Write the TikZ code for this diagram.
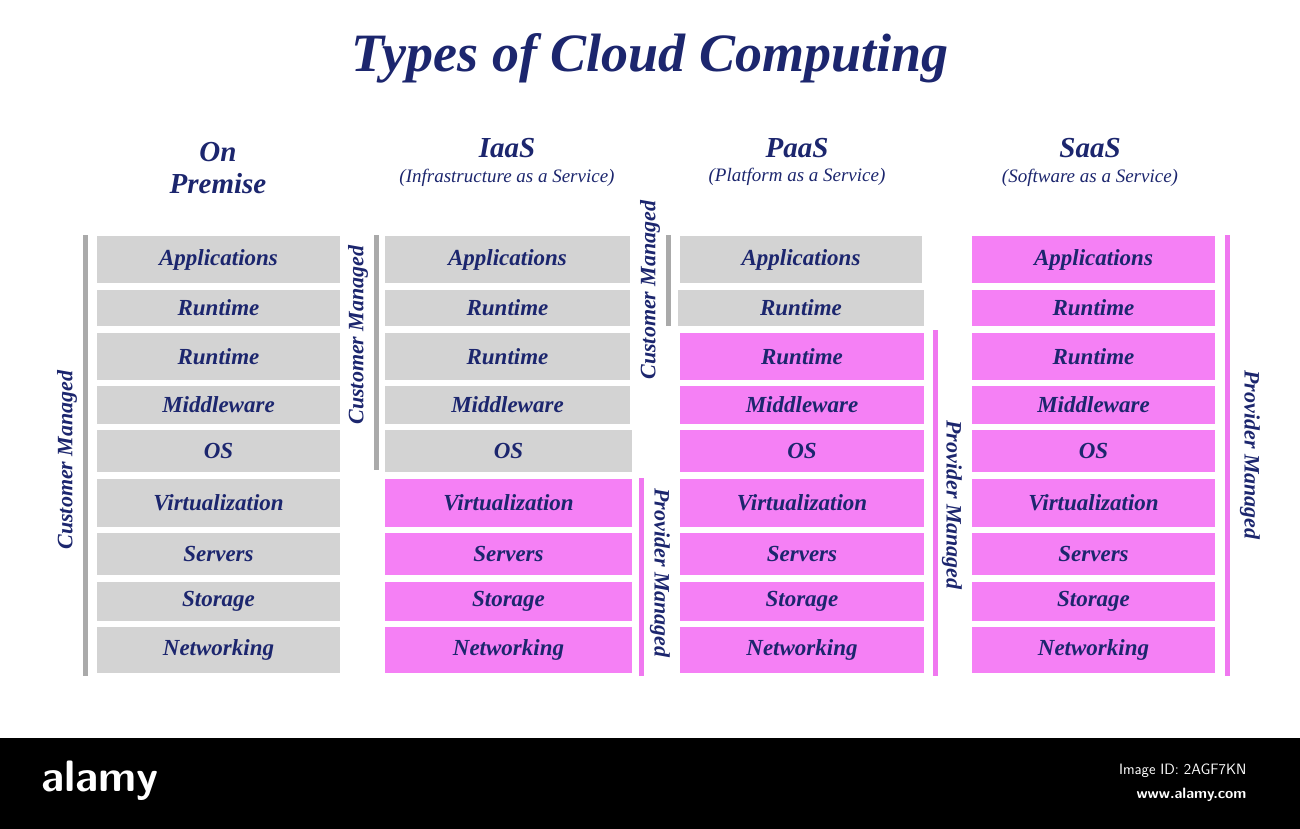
\documentclass[tikz,border=0pt]{standalone}
\usepackage{fontspec}
\setmainfont{Liberation Serif}
\begin{document}
\begin{tikzpicture}[x=1pt,y=-1pt]
\definecolor{navy}{RGB}{28,38,110}
\definecolor{gbox}{RGB}{211,211,211}
\definecolor{pbox}{RGB}{245,128,245}
\definecolor{gbar}{RGB}{170,170,170}
\definecolor{pbar}{RGB}{240,120,240}
\tikzset{cellbox/.style={inner sep=0pt,text=navy,font=\fontsize{23}{23}\selectfont\bfseries\itshape},
 sidelab/.style={text=navy,font=\fontsize{22}{22}\selectfont\bfseries\itshape,inner sep=0pt},
 head/.style={text=navy,font=\fontsize{29}{32}\selectfont\bfseries\itshape,align=center},
 sub/.style={text=navy,font=\fontsize{19}{20}\selectfont\itshape}}
\newcommand\cell[7]{\node[cellbox,fill=#6,minimum width={#4-#2},minimum height={#5-#3}] (#1) at ({(#2+#4)/2},{(#3+#5)/2}) {#7};}
\useasboundingbox (0,0) rectangle (1300,829);
\fill[white] (0,0) rectangle (1300,738);
\node[text=navy,font=\fontsize{54}{54}\selectfont\bfseries\itshape] (title) at (650,58) {Types of Cloud Computing};
\node[head] (h1) at (218,168) {On\\Premise};
\node[head] (h2) at (507,148) {IaaS};
\node[sub] (s2) at (507,178) {(Infrastructure as a Service)};
\node[head] (h3) at (797,148) {PaaS};
\node[sub] (s3) at (797,177) {(Platform as a Service)};
\node[head] (h4) at (1090,148) {SaaS};
\node[sub] (s4) at (1090,178) {(Software as a Service)};
% column 1
\cell{a1}{97}{236}{340}{283}{gbox}{Applications}
\cell{b1}{97}{290}{340}{326}{gbox}{Runtime}
\cell{c1}{97}{333}{340}{380}{gbox}{Runtime}
\cell{d1}{97}{386}{340}{424}{gbox}{Middleware}
\cell{e1}{97}{430}{340}{472}{gbox}{OS}
\cell{f1}{97}{479}{340}{527}{gbox}{Virtualization}
\cell{g1}{97}{533}{340}{575}{gbox}{Servers}
\cell{h1b}{97}{582}{340}{621}{gbox}{Storage}
\cell{i1}{97}{627}{340}{673}{gbox}{Networking}
% column 2
\cell{a2}{385}{236}{630}{283}{gbox}{Applications}
\cell{b2}{385}{290}{630}{326}{gbox}{Runtime}
\cell{c2}{385}{333}{630}{380}{gbox}{Runtime}
\cell{d2}{385}{386}{630}{424}{gbox}{Middleware}
\cell{e2}{385}{430}{632}{472}{gbox}{OS}
\cell{f2}{385}{479}{632}{527}{pbox}{Virtualization}
\cell{g2}{385}{533}{632}{575}{pbox}{Servers}
\cell{h2}{385}{582}{632}{621}{pbox}{Storage}
\cell{i2}{385}{627}{632}{673}{pbox}{Networking}
% column 3
\cell{a3}{680}{236}{922}{283}{gbox}{Applications}
\cell{b3}{678}{290}{924}{326}{gbox}{Runtime}
\cell{c3}{680}{333}{924}{380}{pbox}{Runtime}
\cell{d3}{680}{386}{924}{424}{pbox}{Middleware}
\cell{e3}{680}{430}{924}{472}{pbox}{OS}
\cell{f3}{680}{479}{924}{527}{pbox}{Virtualization}
\cell{g3}{680}{533}{924}{575}{pbox}{Servers}
\cell{h3}{680}{582}{924}{621}{pbox}{Storage}
\cell{i3}{680}{627}{924}{673}{pbox}{Networking}
% column 4
\cell{a4}{972}{236}{1215}{283}{pbox}{Applications}
\cell{b4}{972}{290}{1215}{326}{pbox}{Runtime}
\cell{c4}{972}{333}{1215}{380}{pbox}{Runtime}
\cell{d4}{972}{386}{1215}{424}{pbox}{Middleware}
\cell{e4}{972}{430}{1215}{472}{pbox}{OS}
\cell{f4}{972}{479}{1215}{527}{pbox}{Virtualization}
\cell{g4}{972}{533}{1215}{575}{pbox}{Servers}
\cell{h4b}{972}{582}{1215}{621}{pbox}{Storage}
\cell{i4}{972}{627}{1215}{673}{pbox}{Networking}
% bars
\fill[gbar] (83,235) rectangle (88,676);
\fill[gbar] (374,235) rectangle (379,470);
\fill[pbar] (639,478) rectangle (644,676);
\fill[gbar] (666,235) rectangle (671,326);
\fill[pbar] (933,330) rectangle (938,676);
\fill[pbar] (1225,235) rectangle (1230,676);
% side labels
\node[sidelab,rotate=90] (l1) at (67,460) {Customer Managed};
\node[sidelab,rotate=90] (l2) at (358,335) {Customer Managed};
\node[sidelab,rotate=-90] (l3) at (660,573) {Provider Managed};
\node[sidelab,rotate=90] (l4) at (650,290) {Customer Managed};
\node[sidelab,rotate=-90] (l5) at (952,505) {Provider Managed};
\node[sidelab,rotate=-90] (l6) at (1250,455) {Provider Managed};
% watermark bar
\fill[black] (0,738) rectangle (1300,829);
\node[white,font=\fontsize{44}{44}\selectfont\sffamily\bfseries] (al) at (100,781) {alamy};
\node[white,font=\fontsize{15}{15}\selectfont\sffamily,anchor=east] (id) at (1250,771) {Image ID: 2AGF7KN};
\node[white,font=\fontsize{15}{15}\selectfont\sffamily\bfseries,anchor=east] (www) at (1250,795) {www.alamy.com};
\end{tikzpicture}
\end{document}
